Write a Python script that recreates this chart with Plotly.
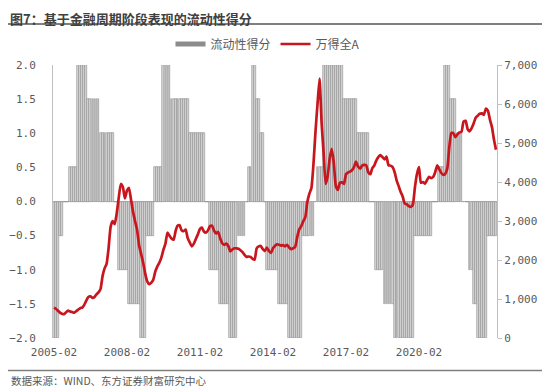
import plotly.graph_objects as go
import pandas as pd

# ---------------- data (monthly, starting 2005-02) ----------------
start_month = "2005-02-01"

liquidity_score = [
    -2.0, -2.0, -2.0, -0.5, -0.5, 0, 0, 0, 0.5, 0.5, 0.5, 0.5,
    2.0, 2.0, 2.0, 2.0, 2.0, 1.5, 1.5, 1.5, 1.5, 1.5, 1.5, 1.0,
    1.0, 1.0, 1.0, 1.0, 1.0, 1.0, 0, 0, -1.0, -1.0, -1.0, -1.0,
    -1.0, -1.5, -1.5, -1.5, -1.5, -1.5, -1.5, -2.0, -2.0, -2.0, -0.5, -0.5,
    -0.5, -0.5, 0.5, 0.5, 0.5, 0.5, 2.0, 2.0, 2.0, 2.0, 1.5, 1.5,
    1.5, 1.5, 1.5, 1.5, 1.5, 1.5, 1.5, 1.0, 1.0, 1.0, 1.0, 1.0,
    1.0, 1.0, 1.0, 0, 0, -1.0, -1.0, -1.0, -1.0, -1.0, -1.5, -1.5,
    -1.5, -1.5, -1.5, -2.0, -2.0, -2.0, -2.0, -0.5, -0.5, -0.5, -0.5, 0,
    0.5, 0.5, 2.0, 2.0, 1.5, 1.5, 1.0, 1.0, 0, -1.0, -1.0, -1.0,
    -1.0, -1.0, -1.0, -1.5, -1.5, -1.5, -1.5, -1.5, -2.0, -2.0, -2.0, -2.0,
    -2.0, -2.0, -2.0, -0.5, -0.5, -0.5, -0.5, -0.5, -0.5, 0, 0.5, 0.5,
    0.5, 2.0, 2.0, 2.0, 2.0, 2.0, 2.0, 2.0, 2.0, 2.0, 2.0, 1.5,
    1.5, 1.5, 1.5, 1.5, 1.5, 1.5, 1.0, 1.0, 1.0, 1.0, 1.0, 1.0,
    0, 0, 0, -1.0, -1.0, -1.0, -1.0, -1.5, -1.5, -1.5, -1.5, -1.5,
    -2.0, -2.0, -2.0, -2.0, -2.0, -2.0, -2.0, -2.0, -2.0, -2.0, -0.5, -0.5,
    -0.5, -0.5, -0.5, -0.5, -0.5, -0.5, -0.5, 0, 0, 0, 0.5, 0.5,
    0.5, 2.0, 2.0, 2.0, 1.5, 1.5, 1.5, 1.0, 1.0, 1.0, 0, 0,
    0, -1.0, -1.0, -1.5, -1.5, -2.0, -2.0, -2.0, -2.0, -2.0, -0.5, -0.5,
    -0.5, -0.5, -0.5,
]

wind_all_a = [
    780, 750, 700, 650, 620, 610, 660, 700, 680, 665, 650, 690,
    730, 765, 780, 850, 960, 1050, 1070, 1030, 1050, 1120, 1170, 1260,
    1600, 1780, 1900, 2300, 2850, 3000, 2920, 3200, 3600, 3950, 3880, 3580,
    3780, 3850, 3560, 3250, 3000, 2780, 2380, 2150, 1930, 1650, 1450, 1380,
    1420, 1490, 1700, 1830, 1930, 2060, 2260, 2420, 2700, 2620, 2550, 2520,
    2750, 2880, 2890, 2760, 2740, 2780, 2560, 2450, 2350, 2420, 2540, 2660,
    2800, 2830, 2730, 2700, 2760, 2870, 2880, 2750, 2680, 2720, 2560, 2430,
    2390, 2420, 2360, 2220, 2270, 2300, 2300, 2290, 2250, 2200, 2130, 2080,
    2090, 2080, 2030, 2010, 2300, 2350, 2360, 2280, 2230, 2320, 2230, 2180,
    2300, 2360, 2400, 2390, 2370, 2380, 2350, 2390, 2320, 2280, 2300, 2340,
    2600, 2780, 2870, 2990, 3100, 3480, 3700, 3850, 4450, 5300, 6000, 6650,
    5500, 4760, 3950, 4150, 4600, 4850, 4500, 3900, 3800, 3980, 3990, 3950,
    4200, 4240, 4265, 4300, 4380, 4520, 4400, 4340, 4420, 4440, 4430, 4250,
    4200, 4350, 4420, 4550, 4640, 4690, 4640, 4580, 4650, 4430, 4420, 4380,
    4250, 4050, 3900, 3750, 3630, 3450, 3430, 3380, 3360, 3420, 3850, 4200,
    4380, 3980, 4000, 3960, 4050, 4130, 4100, 4130, 4250, 4430, 4330, 4230,
    4180, 4210, 4350, 4900, 5260, 5250, 5150, 5220, 5270, 5290, 5550, 5570,
    5350, 5300, 5380, 5500, 5650, 5700, 5750, 5760, 5720, 5880, 5830, 5600,
    5400, 5100, 4830,
]

tick_labels = ["2005-02", "2008-02", "2011-02", "2014-02", "2017-02", "2020-02"]

series_names = ["流动性得分", "万得全A"]
title_text = "图7：基于金融周期阶段表现的流动性得分"
source_text = "数据来源：WIND、东方证券财富研究中心"

months = pd.date_range(start_month, periods=len(liquidity_score), freq="MS")
tick_dates = [pd.Timestamp(t + "-01") for t in tick_labels]

# ---------------- style ----------------
# the page body has an 8px default margin, so the figure is drawn 8px in
OFF = 8
WIN_W, WIN_H = 550, 392
W, H = WIN_W - OFF, WIN_H - OFF
PLOT_L, PLOT_R, PLOT_T, PLOT_B = 53, 497, 65, 338   # in window pixels
L, T = PLOT_L - OFF, PLOT_T - OFF
R, B = WIN_W - PLOT_R, WIN_H - PLOT_B
PW, PH = PLOT_R - PLOT_L, PLOT_B - PLOT_T

RED = "#C8161E"
GREY_TXT = "#595959"
AXIS_GREY = "#bfbfbf"
CJK = "Noto Sans CJK SC"
MONO = "DejaVu Sans Mono"


def px_x(p):
    return (p - PLOT_L) / PW


def px_y(p):
    return (PLOT_B - p) / PH


fig = go.Figure()

fig.add_trace(go.Bar(
    x=months, y=liquidity_score, name=series_names[0], showlegend=False,
    marker=dict(color="#d8d8d8", line=dict(color="#8c8c8c", width=0.6)),
    yaxis="y",
))
# legend swatch for the bars
fig.add_trace(go.Scatter(
    x=[None], y=[None], mode="lines", name=series_names[0],
    line=dict(color="#8c8c8c", width=5),
))
fig.add_trace(go.Scatter(
    x=months, y=wind_all_a, mode="lines", name=series_names[1],
    line=dict(color=RED, width=2.7, shape="spline", smoothing=0.5),
    yaxis="y2",
))

fig.update_layout(
    width=W, height=H,
    margin=dict(l=L, r=R, t=T, b=B, pad=0, autoexpand=False),
    paper_bgcolor="white", plot_bgcolor="white",
    bargap=0,
    font=dict(family=CJK, size=12, color=GREY_TXT),
    xaxis=dict(
        type="date",
        range=["2005-01-17", "2023-04-17"],
        tickmode="array", tickvals=tick_dates, ticktext=tick_labels,
        showgrid=False, showline=False, zeroline=False, ticks="",
        tickfont=dict(family=MONO, size=11, color=GREY_TXT),
        ticklabelstandoff=6,
    ),
    yaxis=dict(
        range=[-2, 2], dtick=0.5, tick0=0, tickformat=".1f",
        showgrid=False, zeroline=True, zerolinecolor=AXIS_GREY, zerolinewidth=1,
        showline=True, linecolor=AXIS_GREY, linewidth=1, ticks="",
        tickfont=dict(family=MONO, size=11, color=GREY_TXT),
        ticklabelstandoff=14,
    ),
    yaxis2=dict(
        overlaying="y", side="right",
        range=[0, 7000], dtick=1000, tickformat=",",
        showgrid=False, zeroline=False,
        showline=True, linecolor=AXIS_GREY, linewidth=1,
        ticks="outside", ticklen=4, tickcolor=AXIS_GREY,
        tickfont=dict(family=MONO, size=11, color=GREY_TXT),
    ),
    legend=dict(
        orientation="h", x=px_x(268), xanchor="center",
        y=px_y(44), yanchor="middle",
        font=dict(family=CJK, size=12, color=GREY_TXT),
        bgcolor="rgba(0,0,0,0)", itemwidth=30,
    ),
    shapes=[
        dict(type="line", xref="paper", yref="paper",
             x0=px_x(OFF), x1=px_x(WIN_W), y0=px_y(24), y1=px_y(24),
             line=dict(color="#7f7f7f", width=2)),
        dict(type="line", xref="paper", yref="paper",
             x0=px_x(OFF), x1=px_x(WIN_W), y0=px_y(370.5), y1=px_y(370.5),
             line=dict(color="#7f7f7f", width=1.5)),
    ],
    annotations=[
        dict(text="<b>" + title_text + "</b>", xref="paper", yref="paper",
             x=px_x(OFF + 1), y=px_y(8), xanchor="left", yanchor="top",
             showarrow=False, borderpad=0,
             font=dict(family=CJK, size=13, color="#404040")),
        dict(text=source_text, xref="paper", yref="paper",
             x=px_x(OFF + 1), y=px_y(381), xanchor="left", yanchor="middle",
             showarrow=False, font=dict(family=CJK, size=10.5, color=GREY_TXT)),
    ],
)

fig.write_html("out.html")
